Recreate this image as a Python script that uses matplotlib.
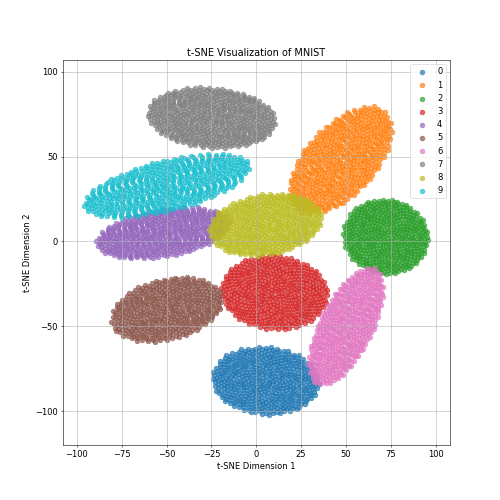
import numpy as np
import matplotlib
matplotlib.use("Agg")
import matplotlib.pyplot as plt

digits = [0, 1, 2, 3, 4, 5, 6, 7, 8, 9]
centers_x = [5, 47, 72, 10, -52, -50, 50, -25, 5, -50]
centers_y = [-82, 48, 3, -30, 5, -40, -50, 73, 10, 33]
radius_x = [30, 38, 24, 30, 38, 32, 38, 36, 32, 48]
radius_y = [20, 20, 22, 22, 14, 18, 15, 18, 18, 15]
angles = [-5, 50, -15, -5, 10, 15, 65, -5, 10, 15]
counts = [480, 520, 500, 500, 480, 450, 480, 520, 480, 500]

fig = plt.figure(figsize=(10, 10), dpi=50)
ax = fig.add_subplot(111)
golden = np.pi * (3 - np.sqrt(5))
for d, cx, cy, rx, ry, a, n in zip(digits, centers_x, centers_y, radius_x, radius_y, angles, counts):
    i = np.arange(n) + 0.5
    r = np.sqrt(i / n)
    t = i * golden
    u = rx * r * np.cos(t)
    v = ry * r * np.sin(t)
    th = np.deg2rad(a)
    x = cx + u * np.cos(th) - v * np.sin(th)
    y = cy + u * np.sin(th) + v * np.cos(th)
    ax.scatter(x, y, s=45, alpha=0.7, color=plt.cm.tab10(d), label=str(d))

ax.set_xlim(-108, 108)
ax.set_ylim(-120, 107)
ax.set_title("t-SNE Visualization of MNIST", fontsize=14)
ax.set_xlabel("t-SNE Dimension 1", fontsize=12)
ax.set_ylabel("t-SNE Dimension 2", fontsize=12)
ax.tick_params(labelsize=12)
ax.grid(True)
ax.legend(loc="upper right", fontsize=12)
fig.savefig("out.png", dpi=50)
